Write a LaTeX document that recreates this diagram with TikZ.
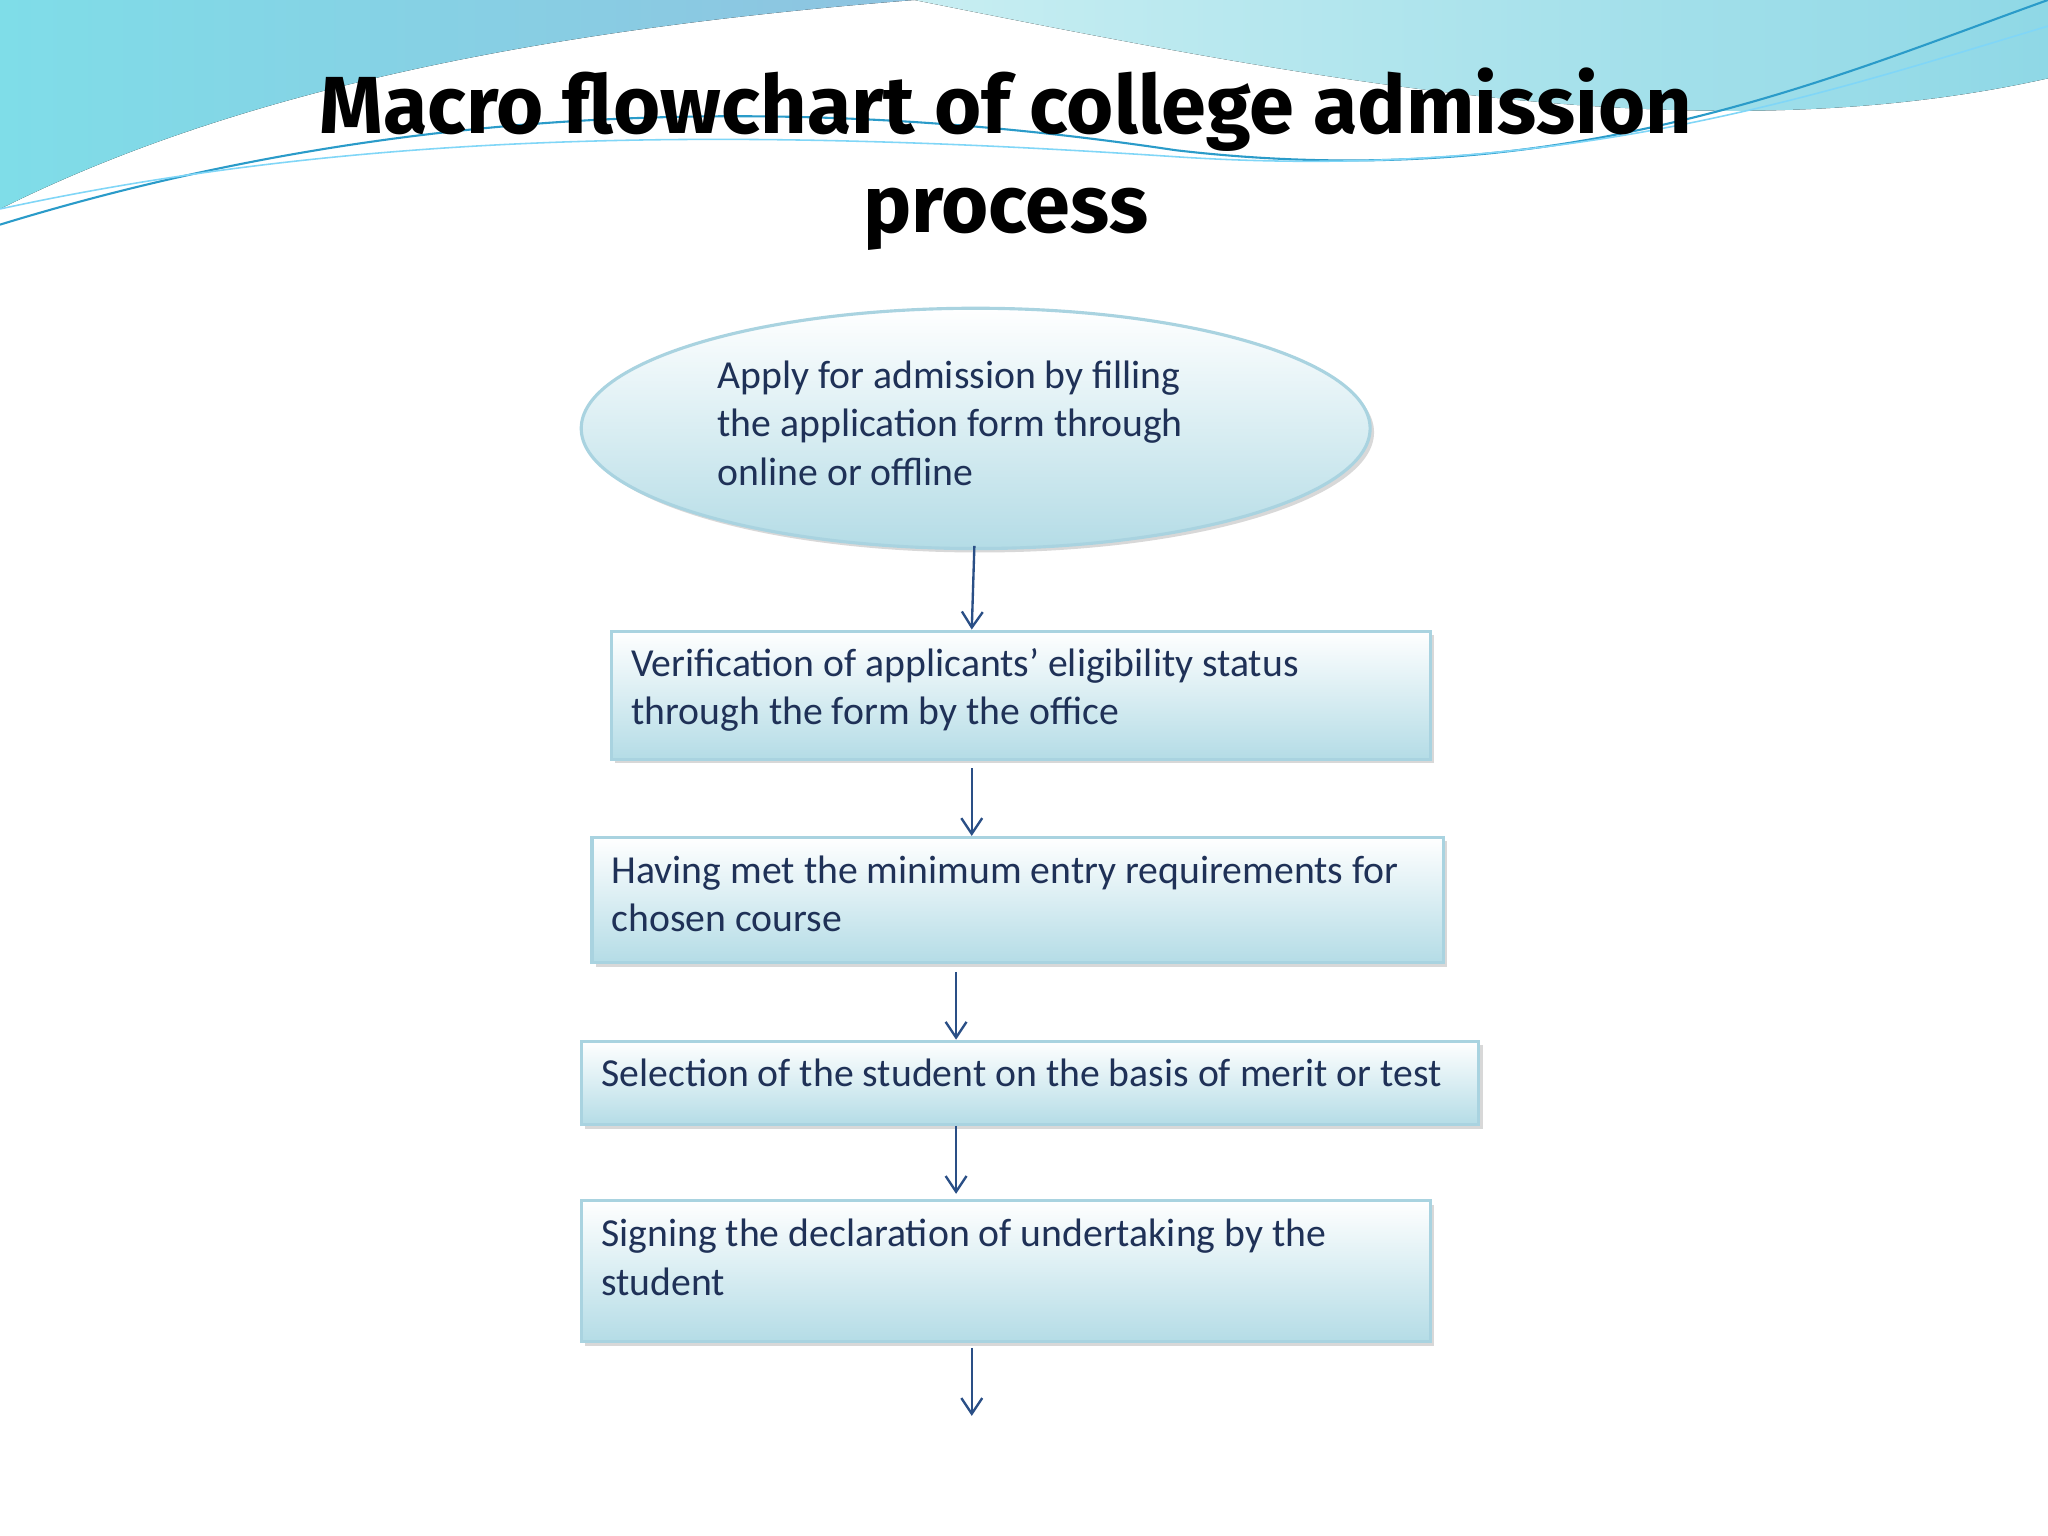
\documentclass[tikz,border=0pt]{standalone}
\usepackage{fontspec}
\setmainfont{Carlito}
\newfontfamily\titlefont{Fira Sans}
\usetikzlibrary{shapes.geometric,arrows.meta,shadows}
\definecolor{txt}{HTML}{1F3157}
\definecolor{bord}{HTML}{A9D3E0}
\definecolor{boxbot}{HTML}{B4DCE6}
\definecolor{arr}{HTML}{2A4F86}
\definecolor{wavea}{HTML}{7FDDE8}
\definecolor{waveb}{HTML}{8EC3E0}
\definecolor{wavec}{HTML}{C8EEF2}
\definecolor{waved}{HTML}{8FD8E6}
\tikzset{
  stepbox/.style={draw=bord,line width=1.2pt,top color=white,bottom color=boxbot,
    drop shadow={shadow xshift=1.5pt,shadow yshift=-1.5pt,fill=gray!60}},
  lbl/.style={anchor=north west,align=left,text=txt,font=\fontsize{15.2}{18.5}\selectfont,inner sep=0pt},
  flow/.style={draw=arr,line width=0.9pt,-{Straight Barb[length=6pt,width=8pt]}}
}
\begin{document}
\begin{tikzpicture}[x=0.5pt,y=-0.5pt]
\useasboundingbox (0,0) rectangle (1568,1176);
\fill[white!95!blue!2] (0,0) rectangle (1568,1176);
% top waves
\fill[left color=wavea,right color=waveb] (0,0) -- (700,0) .. controls (450,20) and (200,60) .. (0,160) -- cycle;
\fill[left color=wavec,right color=waved] (700,0) -- (1568,0) -- (1568,60) .. controls (1300,120) and (1000,60) .. (700,0) -- cycle;
\draw[cyan!60!teal,line width=0.8pt] (0,172) .. controls (300,80) and (600,70) .. (900,115) .. controls (1200,150) and (1400,60) .. (1568,0);
\draw[cyan!50,line width=0.6pt] (0,160) .. controls (300,95) and (600,100) .. (900,120) .. controls (1200,140) and (1400,70) .. (1568,20);
% title
\node[font=\titlefont\bfseries\fontsize{31}{38}\selectfont,align=center] (title) at (770,122) {Macro flowchart of college admission\\process};
% ellipse
\node[ellipse,stepbox,minimum width=302pt,minimum height=92pt,inner sep=0pt] (e) at (747,328) {};
\node[lbl] (et) at (549,276) {Apply for admission by filling\\the application form through\\online or offline};
% boxes
\node[stepbox,rectangle,anchor=north west,minimum width=313.5pt,minimum height=49pt,inner sep=0pt] (b1) at (467,482) {};
\node[lbl] (t1) at (483,496) {Verification of applicants’ eligibility status\\through the form by the office};
\node[stepbox,rectangle,anchor=north west,minimum width=326pt,minimum height=48pt,inner sep=0pt] (b2) at (452,640) {};
\node[lbl] (t2) at (468,655) {Having met the minimum entry requirements for\\chosen course};
\node[stepbox,rectangle,anchor=north west,minimum width=343.5pt,minimum height=32pt,inner sep=0pt] (b3) at (444,796) {};
\node[lbl] (t3) at (460,810) {Selection of the student on the basis of merit or test};
\node[stepbox,rectangle,anchor=north west,minimum width=325pt,minimum height=54pt,inner sep=0pt] (b4) at (444,918) {};
\node[lbl] (t4) at (460,933) {Signing the declaration of undertaking by the\\student};
% arrows
\coordinate (a0) at (746,418); \coordinate (a1) at (744,482);
\coordinate (a2) at (744,588); \coordinate (a3) at (744,640);
\coordinate (a4) at (732,744); \coordinate (a5) at (732,796);
\coordinate (a6) at (732,862); \coordinate (a7) at (732,914);
\coordinate (a8) at (744,1032); \coordinate (a9) at (744,1084);
\draw[flow] (a0) -- (a1);
\draw[flow] (a2) -- (a3);
\draw[flow] (a4) -- (a5);
\draw[flow] (a6) -- (a7);
\draw[flow] (a8) -- (a9);
\end{tikzpicture}
\end{document}
